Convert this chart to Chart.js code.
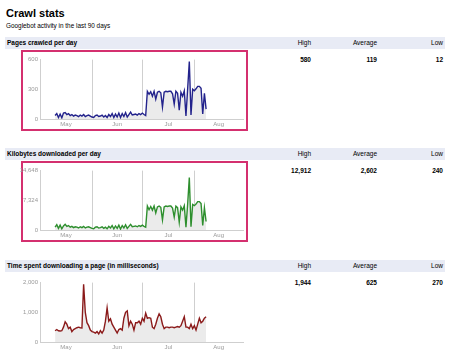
<!DOCTYPE html>
<html>
<head>
<meta charset="utf-8">
<script src="https://cdn.jsdelivr.net/npm/chart.js@4.4.1/dist/chart.umd.min.js"></script>
<style>
  body { margin: 0; background: #fff; font-family: Arial, "Liberation Sans", sans-serif; color: #000; width: 474px; height: 364px; overflow: hidden; position: relative; }
  h1 { position: absolute; left: 6px; top: 7px; margin: 0; font-size: 11px; font-weight: bold; }
  .sub { position: absolute; left: 6px; top: 22px; font-size: 6.4px; line-height: 8px; }
  .section { position: absolute; left: 0; width: 474px; height: 110px; }
  .band { position: absolute; left: 5px; top: 0; width: 440px; height: 12px; background: #e8ebf5; }
  .band b, .col { position: absolute; font-size: 6.5px; line-height: 12px; }
  .band b { left: 2px; top: 0; }
  .col { width: 60px; text-align: right; }
  .val { top: 18px; font-weight: bold; line-height: 10px; }
  .box { position: absolute; left: 21px; top: 13px; width: 223px; height: 77px; border: 2px solid #d4306f; }
  .chart { position: absolute; left: 17px; top: 17px; width: 228px; height: 76px; }
</style>
</head>
<body>
<h1>Crawl stats</h1>
<div class="sub">Googlebot activity in the last 90 days</div>

<div class="section" style="top:37px">
  <div class="band"><b>Pages crawled per day</b></div>
  <div class="col" style="left:251px">High</div>
  <div class="col" style="left:317px">Average</div>
  <div class="col" style="left:383px">Low</div>
  <div class="col val" style="left:251px" id="pHigh"></div>
  <div class="col val" style="left:317px" id="pAvg"></div>
  <div class="col val" style="left:383px" id="pLow"></div>
  <div class="box"></div>
  <div class="chart"><canvas id="pagesChart"></canvas></div>
</div>

<div class="section" style="top:148px">
  <div class="band"><b>Kilobytes downloaded per day</b></div>
  <div class="col" style="left:251px">High</div>
  <div class="col" style="left:317px">Average</div>
  <div class="col" style="left:383px">Low</div>
  <div class="col val" style="left:251px" id="kHigh"></div>
  <div class="col val" style="left:317px" id="kAvg"></div>
  <div class="col val" style="left:383px" id="kLow"></div>
  <div class="box"></div>
  <div class="chart"><canvas id="kbChart"></canvas></div>
</div>

<div class="section" style="top:260px">
  <div class="band"><b>Time spent downloading a page (in milliseconds)</b></div>
  <div class="col" style="left:251px">High</div>
  <div class="col" style="left:317px">Average</div>
  <div class="col" style="left:383px">Low</div>
  <div class="col val" style="left:251px" id="tHigh"></div>
  <div class="col val" style="left:317px" id="tAvg"></div>
  <div class="col val" style="left:383px" id="tLow"></div>
  <div class="chart"><canvas id="timeChart"></canvas></div>
</div>

<script>
// x axis: days counted from May 1
const monthLabels = ['May', 'Jun', 'Jul', 'Aug'];
const monthStarts = [0, 31, 61, 92, 121];
const firstDay = 9;

const pagesTicks = [0, 300, 600];
const kbTicks = [0, 7324, 14648];
const timeTicks = [0, 1000, 2000];

const pagesStats = [580, 119, 12];
const kbStats = [12912, 2602, 240];
const timeStats = [1944, 625, 270];

const pagesPerDay = [
  35, 55, 15, 50, 12, 60, 65, 45, 55, 35, 45, 30, 40, 35, 25, 40, 30, 45, 25, 35,
  40, 30, 20, 15, 35, 40, 25, 30, 40, 20, 35, 15, 45, 25, 55, 15, 50, 20, 60, 15,
  55, 25, 65, 20, 45, 70, 40, 45, 50, 40, 55, 45, 60, 45, 35,
  280, 250, 275, 230, 280, 200, 270, 280, 265, 120, 270, 280, 275, 280, 280, 255,
  150, 280, 260, 90, 270, 230, 285, 30, 300, 580, 40, 300, 285, 305, 330, 330,
  310, 50, 260, 100
];

const kbPerDay = [
  700, 1300, 400, 1200, 300, 1000, 1400, 900, 1100, 700, 900, 600, 800, 700, 500,
  800, 600, 900, 500, 700, 800, 600, 400, 300, 700, 800, 500, 600, 800, 400,
  700, 300, 900, 500, 1100, 300, 1000, 400, 1200, 240, 1100, 500, 1300, 400, 900,
  1400, 800, 900, 1000, 800, 1100, 900, 1200, 900, 700,
  5900, 5000, 5800, 4900, 5900, 4200, 5700, 5900, 5600, 2500, 5700, 5900, 5800, 5900,
  5900, 5400, 3200, 5900, 5500, 1900, 5700, 4900, 6000, 700, 6300, 12912, 800, 6300,
  6000, 6400, 7000, 7000, 6500, 1100, 5500, 2100
];

const msPerPage = [
  380, 420, 380, 370, 380, 500, 680, 600, 450, 500, 350, 420, 450, 480, 500, 480,
  470, 1944, 1000, 650, 550, 400, 350, 330, 300, 350, 270, 380, 300, 400, 700, 1150,
  700, 780, 600, 500, 400, 300, 420, 450, 400, 800, 1000, 1050, 550, 700, 600, 400,
  650, 650, 700, 600, 800, 700, 970, 800, 820, 800, 500, 450, 600, 800, 950, 850,
  600, 450, 500, 500, 480, 500, 500, 480, 500, 520, 500, 550, 700, 850, 500, 500,
  450, 600, 450, 550, 400, 600, 800, 650, 700, 800, 850
];

function fmt(v) { return v.toLocaleString('en-US'); }

function fillStats(prefix, stats) {
  document.getElementById(prefix + 'High').textContent = fmt(stats[0]);
  document.getElementById(prefix + 'Avg').textContent = fmt(stats[1]);
  document.getElementById(prefix + 'Low').textContent = fmt(stats[2]);
}
fillStats('p', pagesStats);
fillStats('k', kbStats);
fillStats('t', timeStats);

// month boundaries get a grid line, the middle of each month gets the label
const xTicks = [];
monthStarts.forEach((d, i) => {
  xTicks.push(d);
  if (i < monthStarts.length - 1) xTicks.push((d + monthStarts[i + 1]) / 2);
});

function makeChart(id, values, color, yTicks) {
  const ctx = document.getElementById(id).getContext('2d');
  new Chart(ctx, {
    type: 'line',
    data: {
      datasets: [{
        data: values.map((v, i) => ({ x: firstDay + i, y: v })),
        borderColor: color,
        backgroundColor: '#ebebeb',
        borderWidth: 1.4,
        pointRadius: 0,
        fill: 'origin',
        tension: 0
      }]
    },
    options: {
      responsive: true,
      maintainAspectRatio: false,
      animation: false,
      layout: { padding: { top: 5, left: 0, right: 0, bottom: 0 } },
      scales: {
        x: {
          type: 'linear',
          min: monthStarts[0],
          max: monthStarts[monthStarts.length - 1],
          afterBuildTicks: s => { s.ticks = xTicks.map(v => ({ value: v })); },
          afterFit: s => { s.height = 11; },
          ticks: {
            autoSkip: false,
            maxRotation: 0,
            padding: 2,
            color: '#999',
            font: { family: 'Arial, "Liberation Sans"', size: 6 },
            callback: (v, i) => (i % 2 === 1 ? monthLabels[(i - 1) / 2] : '')
          },
          grid: {
            drawTicks: false,
            lineWidth: 1,
            color: c => (c.index % 2 === 0 && c.index > 0 && c.index < xTicks.length - 1) ? '#cfcfcf' : 'rgba(0,0,0,0)'
          },
          border: { display: true, color: '#cfcfcf', width: 1 }
        },
        y: {
          min: yTicks[0],
          max: yTicks[yTicks.length - 1],
          afterBuildTicks: s => { s.ticks = yTicks.map(v => ({ value: v })); },
          afterFit: s => { s.width = 23; },
          ticks: {
            padding: 2,
            color: '#999',
            font: { family: 'Arial, "Liberation Sans"', size: 6 },
            callback: v => fmt(v)
          },
          grid: { drawTicks: false, color: 'rgba(0,0,0,0)' },
          border: { display: true, color: '#cfcfcf', width: 1 }
        }
      },
      plugins: {
        legend: { display: false },
        tooltip: { enabled: false }
      }
    }
  });
}

makeChart('pagesChart', pagesPerDay, '#23238c', pagesTicks);
makeChart('kbChart', kbPerDay, '#2e8f2e', kbTicks);
makeChart('timeChart', msPerPage, '#8b1a1a', timeTicks);
</script>
</body>
</html>
